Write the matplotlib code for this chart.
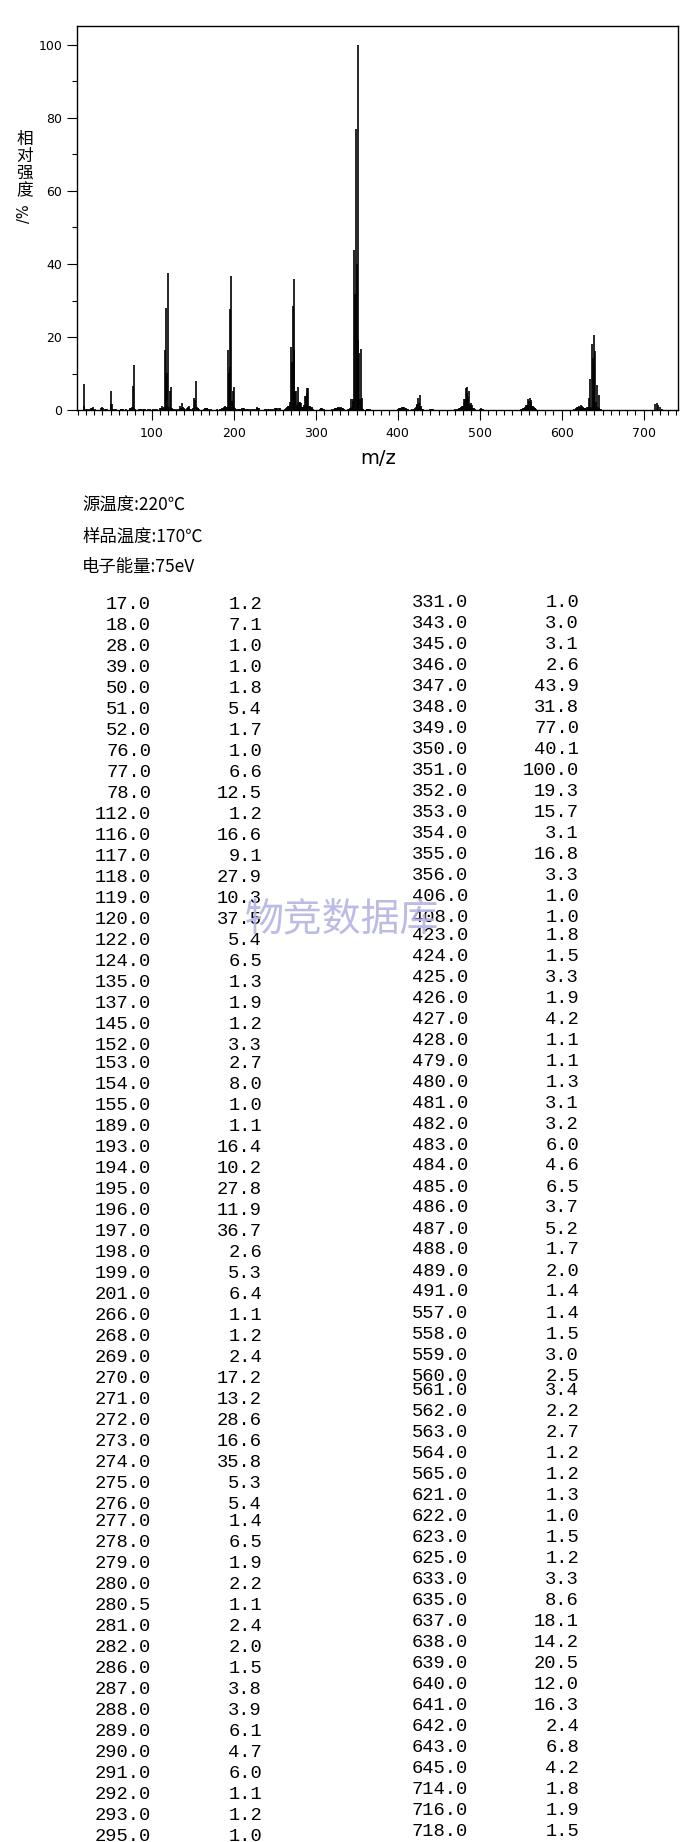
import matplotlib
matplotlib.use('Agg')
import matplotlib.pyplot as plt
from matplotlib.ticker import MultipleLocator

plt.rcParams['font.family'] = ['Noto Sans CJK SC', 'DejaVu Sans']

# peak table, left column (m/z, relative intensity %)
mz_left = [17.0, 18.0, 28.0, 39.0, 50.0, 51.0, 52.0, 76.0, 77.0, 78.0,
           112.0, 116.0, 117.0, 118.0, 119.0, 120.0, 122.0, 124.0, 135.0, 137.0,
           145.0, 152.0, 153.0, 154.0, 155.0, 189.0, 193.0, 194.0, 195.0, 196.0,
           197.0, 198.0, 199.0, 201.0, 266.0, 268.0, 269.0, 270.0, 271.0, 272.0,
           273.0, 274.0, 275.0, 276.0, 277.0, 278.0, 279.0, 280.0, 280.5, 281.0,
           282.0, 286.0, 287.0, 288.0, 289.0, 290.0, 291.0, 292.0, 293.0, 295.0]
int_left = [1.2, 7.1, 1.0, 1.0, 1.8, 5.4, 1.7, 1.0, 6.6, 12.5,
            1.2, 16.6, 9.1, 27.9, 10.3, 37.5, 5.4, 6.5, 1.3, 1.9,
            1.2, 3.3, 2.7, 8.0, 1.0, 1.1, 16.4, 10.2, 27.8, 11.9,
            36.7, 2.6, 5.3, 6.4, 1.1, 1.2, 2.4, 17.2, 13.2, 28.6,
            16.6, 35.8, 5.3, 5.4, 1.4, 6.5, 1.9, 2.2, 1.1, 2.4,
            2.0, 1.5, 3.8, 3.9, 6.1, 4.7, 6.0, 1.1, 1.2, 1.0]

# peak table, right column
mz_right = [331.0, 343.0, 345.0, 346.0, 347.0, 348.0, 349.0, 350.0, 351.0, 352.0,
            353.0, 354.0, 355.0, 356.0, 406.0, 408.0, 423.0, 424.0, 425.0, 426.0,
            427.0, 428.0, 479.0, 480.0, 481.0, 482.0, 483.0, 484.0, 485.0, 486.0,
            487.0, 488.0, 489.0, 491.0, 557.0, 558.0, 559.0, 560.0, 561.0, 562.0,
            563.0, 564.0, 565.0, 621.0, 622.0, 623.0, 625.0, 633.0, 635.0, 637.0,
            638.0, 639.0, 640.0, 641.0, 642.0, 643.0, 645.0, 714.0, 716.0, 718.0]
int_right = [1.0, 3.0, 3.1, 2.6, 43.9, 31.8, 77.0, 40.1, 100.0, 19.3,
             15.7, 3.1, 16.8, 3.3, 1.0, 1.0, 1.8, 1.5, 3.3, 1.9,
             4.2, 1.1, 1.1, 1.3, 3.1, 3.2, 6.0, 4.6, 6.5, 3.7,
             5.2, 1.7, 2.0, 1.4, 1.4, 1.5, 3.0, 2.5, 3.4, 2.2,
             2.7, 1.2, 1.2, 1.3, 1.0, 1.5, 1.2, 3.3, 8.6, 18.1,
             14.2, 20.5, 12.0, 16.3, 2.4, 6.8, 4.2, 1.8, 1.9, 1.5]

# small peaks (<1 %) only seen in the plot, read by eye
minor_mz = [20, 21, 24, 26, 27, 29, 31, 38, 40, 41, 43, 44, 45, 53, 55, 57, 62, 63, 64, 65,
            69, 73, 74, 75, 79, 80, 84, 86, 87, 89, 91, 92, 96, 98, 102, 104, 106, 110, 111, 113,
            114, 115, 121, 123, 125, 126, 127, 130, 132, 134, 136, 138, 139, 140, 141, 143, 144, 146, 147, 149,
            151, 156, 157, 158, 164, 165, 166, 167, 168, 170, 172, 180, 183, 185, 186, 187, 188, 190, 191, 192,
            200, 202, 203, 205, 207, 208, 210, 211, 212, 214, 216, 217, 220, 222, 225, 227, 228, 229, 230, 231,
            238, 240, 242, 243, 245, 248, 250, 251, 252, 253, 255, 256, 257, 262, 264, 265, 267, 283, 284, 285,
            294, 296, 297, 305, 306, 307, 308, 309, 310, 320, 322, 323, 324, 325, 326, 327, 328, 329, 330, 332,
            333, 334, 339, 341, 342, 344, 357, 358, 362, 363, 364, 365, 366, 400, 401, 402, 403, 404, 405, 407,
            409, 410, 411, 412, 417, 420, 421, 422, 429, 430, 431, 440, 441, 442, 443, 470, 472, 474, 475, 476,
            477, 478, 490, 492, 493, 494, 500, 501, 502, 503, 504, 550, 552, 553, 554, 555, 556, 566, 567, 568,
            569, 615, 617, 618, 619, 620, 624, 626, 627, 628, 629, 630, 631, 632, 634, 636, 644, 646, 647, 648,
            720, 722]
minor_int = [0.3, 0.4, 0.3, 0.5, 0.6, 0.4, 0.3, 0.5, 0.4, 0.6, 0.4, 0.4, 0.3, 0.4, 0.3, 0.3, 0.4, 0.4, 0.3, 0.4,
             0.3, 0.3, 0.5, 0.6, 0.5, 0.4, 0.3, 0.3, 0.3, 0.3, 0.4, 0.3, 0.3, 0.3, 0.3, 0.3, 0.3, 0.6, 0.5, 0.5,
             0.6, 0.9, 0.8, 0.7, 0.5, 0.4, 0.4, 0.3, 0.3, 0.5, 0.6, 0.8, 0.6, 0.4, 0.3, 0.6, 0.8, 0.5, 0.3, 0.3,
             0.5, 0.6, 0.5, 0.4, 0.4, 0.5, 0.6, 0.7, 0.6, 0.3, 0.3, 0.3, 0.4, 0.3, 0.5, 0.6, 0.8, 0.8, 0.9, 0.9,
             0.8, 0.5, 0.4, 0.3, 0.4, 0.4, 0.5, 0.5, 0.5, 0.3, 0.4, 0.3, 0.4, 0.3, 0.3, 0.4, 0.6, 0.8, 0.7, 0.5,
             0.3, 0.3, 0.4, 0.3, 0.4, 0.4, 0.5, 0.5, 0.4, 0.5, 0.5, 0.5, 0.4, 0.3, 0.5, 0.8, 0.8, 0.8, 0.9, 0.9,
             0.8, 0.6, 0.4, 0.4, 0.6, 0.5, 0.6, 0.4, 0.3, 0.3, 0.4, 0.6, 0.5, 0.7, 0.6, 0.8, 0.7, 0.9, 0.7, 0.6,
             0.5, 0.4, 0.3, 0.4, 0.5, 0.9, 0.7, 0.4, 0.3, 0.4, 0.4, 0.4, 0.3, 0.3, 0.4, 0.5, 0.5, 0.7, 0.9, 0.9,
             0.7, 0.5, 0.4, 0.3, 0.3, 0.4, 0.5, 0.8, 0.6, 0.4, 0.3, 0.3, 0.4, 0.4, 0.3, 0.3, 0.3, 0.4, 0.5, 0.6,
             0.8, 0.9, 0.9, 0.7, 0.5, 0.3, 0.4, 0.4, 0.5, 0.4, 0.3, 0.3, 0.4, 0.5, 0.7, 0.8, 0.9, 0.9, 0.7, 0.5,
             0.3, 0.3, 0.4, 0.6, 0.8, 0.9, 0.9, 0.8, 0.7, 0.6, 0.6, 0.7, 0.8, 0.9, 0.9, 0.9, 0.9, 0.6, 0.4, 0.3,
             0.8, 0.3]

conditions = ['源温度:220℃', '样品温度:170℃', '电子能量:75eV']
ylabel_chars = ['相', '对', '强', '度']
ylabel_tail = '/%'
watermark = '物竞数据库'

W, H = 687, 1842
fig = plt.figure(figsize=(W / 100, H / 100), dpi=100)


def fx(px):
    return px / W


def fy(py):
    return 1 - py / H


ax = fig.add_axes([fx(77.3), fy(410.3), fx(678.3) - fx(77.3), fy(26.3) - fy(410.3)])
all_mz = mz_left + mz_right + minor_mz
all_int = int_left + int_right + minor_int
ax.vlines(all_mz, 0, all_int, color='black', linewidth=1.2)
ax.set_xlim(9.3, 742.2)
ax.set_ylim(0, 105)
ax.xaxis.set_major_locator(MultipleLocator(100))
ax.xaxis.set_minor_locator(MultipleLocator(10))
ax.yaxis.set_major_locator(MultipleLocator(20))
ax.yaxis.set_minor_locator(MultipleLocator(10))
ax.tick_params(which='both', direction='out', width=0.8, labelsize=9,
               top=False, right=False, colors='black')
ax.tick_params(which='major', length=7.2)
ax.tick_params(which='minor', length=3.6)
ax.tick_params(axis='y', pad=3.5)
ax.tick_params(axis='x', pad=5)
for lab in ax.get_xticklabels() + ax.get_yticklabels():
    lab.set_family('DejaVu Sans')
for sp in ax.spines.values():
    sp.set_linewidth(1.0)

# axis titles
fig.text(fx(377.8), fy(458), 'm/z', fontsize=14, family='DejaVu Sans',
         ha='center', va='center')
for i, ch in enumerate(ylabel_chars):
    fig.text(fx(24.5), fy(139 + 17.3 * i), ch, fontsize=12, ha='center', va='center')
fig.text(fx(24.5), fy(214), ylabel_tail, fontsize=10.5, family='DejaVu Sans',
         rotation=90, ha='center', va='center')

# measurement conditions
for i, line in enumerate(conditions):
    fig.text(fx(82), fy(511 + 30.7 * i), line, fontsize=12.5, ha='left', va='baseline')

# peak table
def row_y(i, y0, shifts):
    y = y0 + 21 * i
    for k, s in shifts:
        if i >= k:
            y += s
    return y

for i, (m, v) in enumerate(zip(mz_left, int_left)):
    y = row_y(i, 603.3, [(22, -2.6), (44, -3.8)]) + 5.5
    fig.text(fx(151), fy(y), f'{m:.1f}', family='Liberation Mono', fontsize=13.5,
             ha='right', va='baseline')
    fig.text(fx(262), fy(y), f'{v:.1f}', family='Liberation Mono', fontsize=13.5,
             ha='right', va='baseline')
for i, (m, v) in enumerate(zip(mz_right, int_right)):
    y = row_y(i, 601.7, [(16, -3.7), (38, -6.5)]) + 5.5
    fig.text(fx(468), fy(y), f'{m:.1f}', family='Liberation Mono', fontsize=13.5,
             ha='right', va='baseline')
    fig.text(fx(579), fy(y), f'{v:.1f}', family='Liberation Mono', fontsize=13.5,
             ha='right', va='baseline')

fig.text(fx(245), fy(920), watermark, fontsize=28, color='#b4b4e4', alpha=0.9,
         ha='left', va='center', zorder=10)

fig.savefig('out.png', dpi=100)
